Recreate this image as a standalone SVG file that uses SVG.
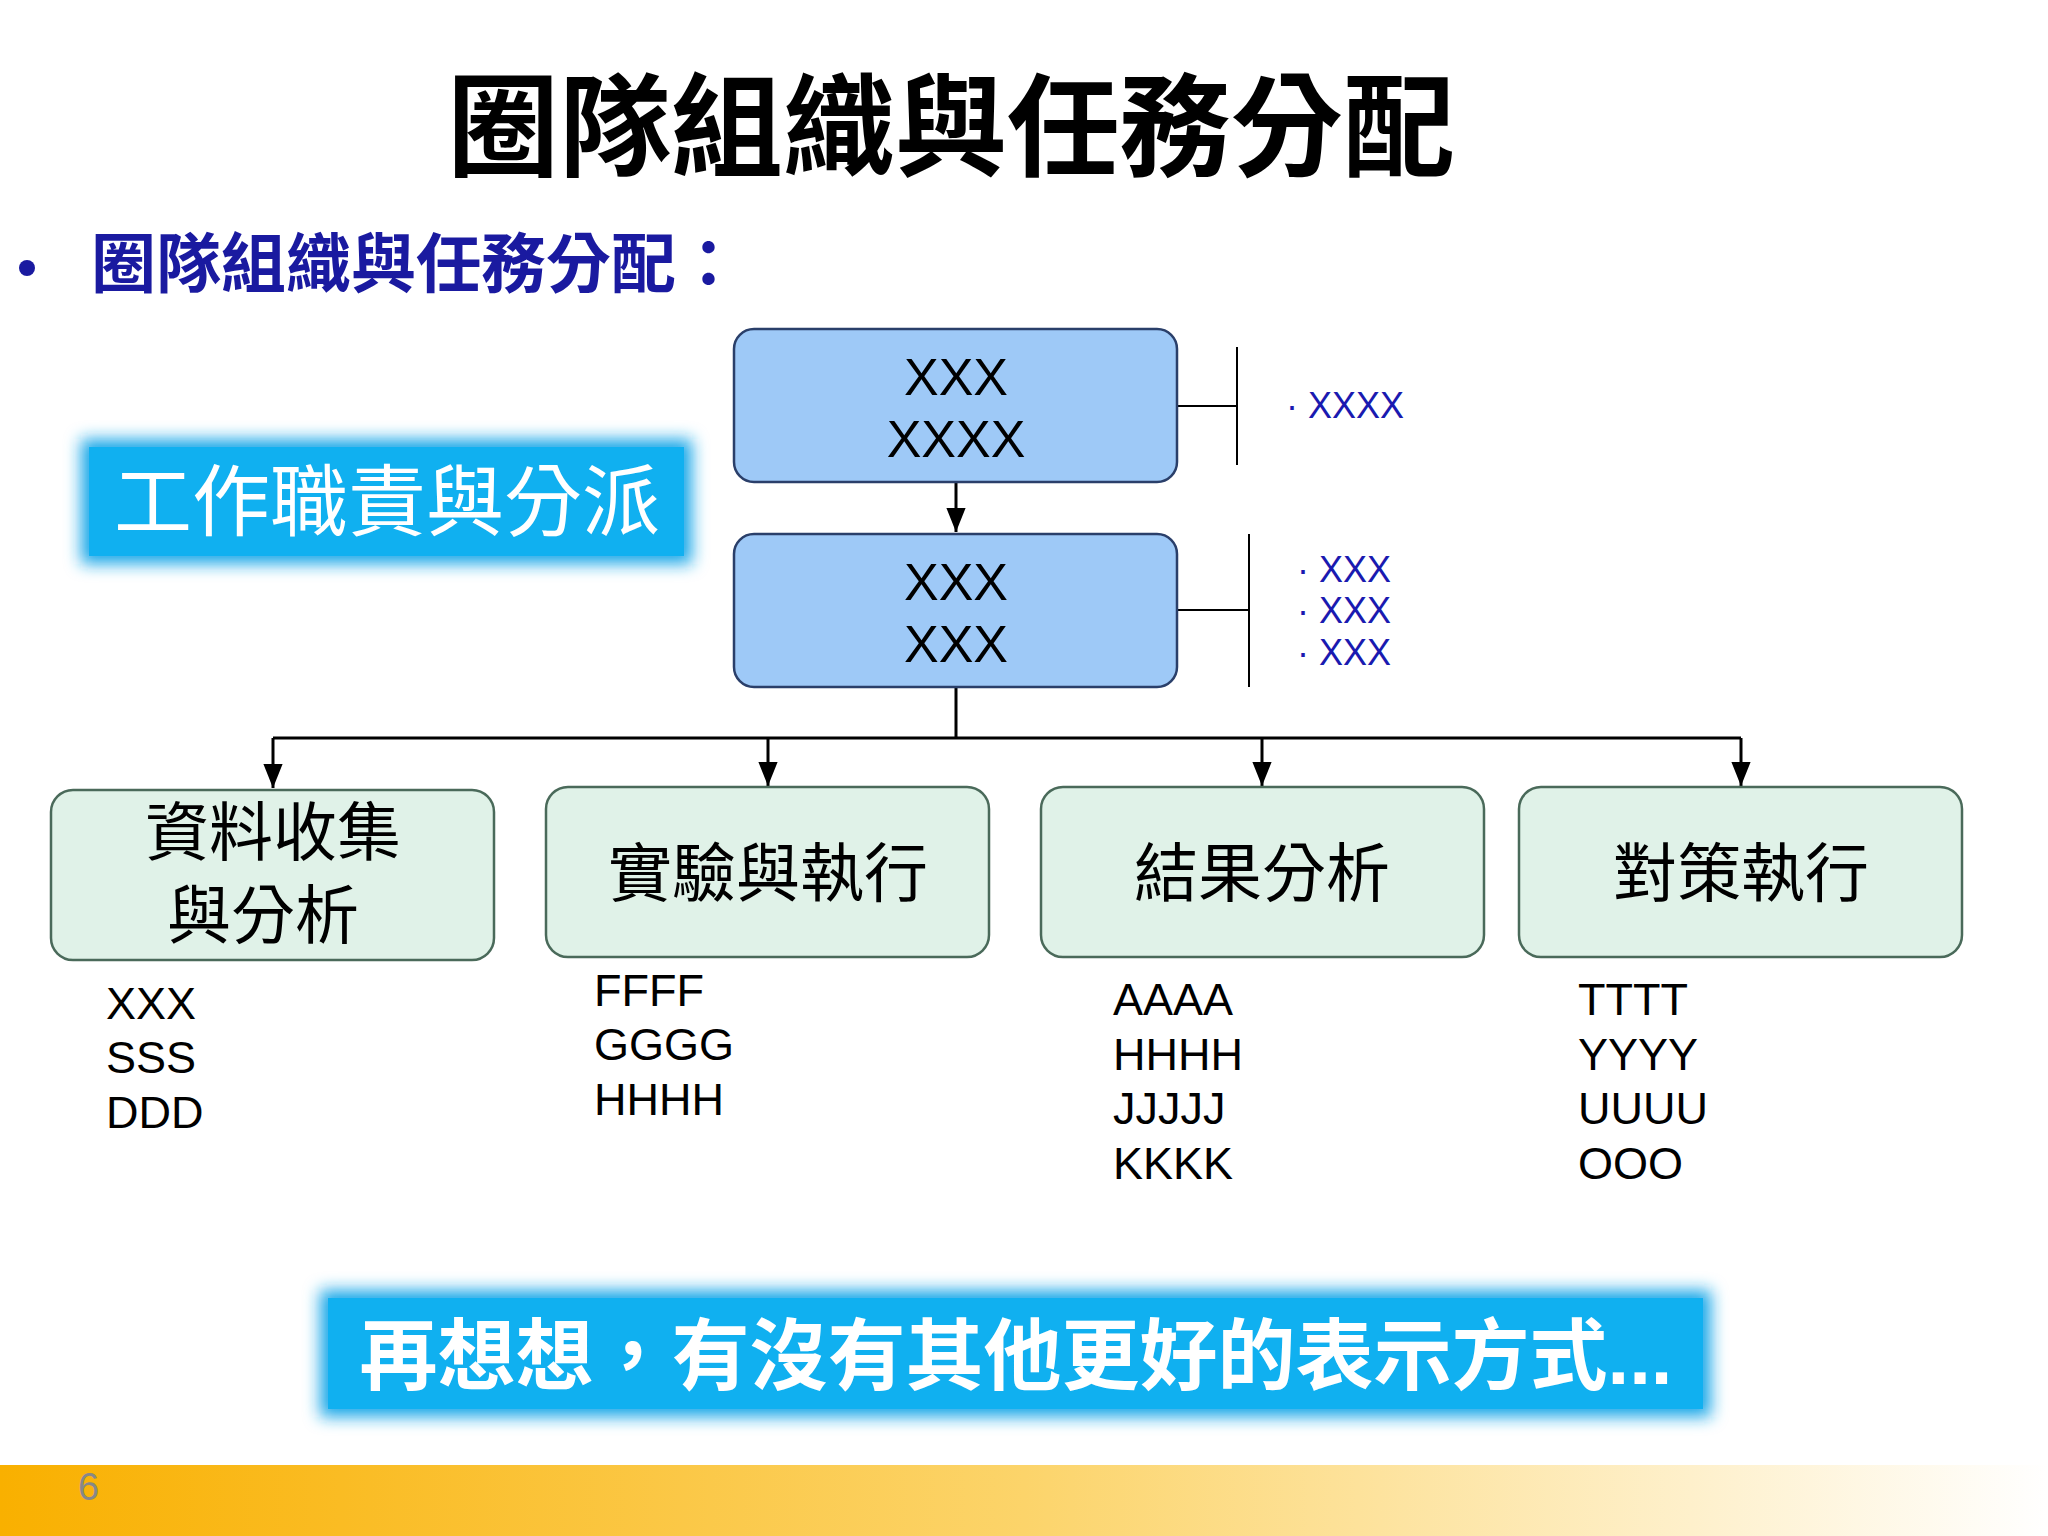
<svg xmlns="http://www.w3.org/2000/svg" width="2048" height="1536" viewBox="0 0 2048 1536">
<defs>
<linearGradient id="foot" x1="0" x2="1" y1="0" y2="0"><stop offset="0" stop-color="#f9b000"/><stop offset="0.5" stop-color="#fcd46a"/><stop offset="1" stop-color="#ffffff"/></linearGradient>
<filter id="glow" x="-10%" y="-30%" width="120%" height="160%"><feGaussianBlur stdDeviation="8"/></filter>
<marker id="ar" viewBox="0 0 10 10" refX="10" refY="5" markerWidth="8" markerHeight="8" orient="auto"><path d="M0,1 L10,5 L0,9 z" fill="#000"/></marker>
<style>
.t{font-family:"Liberation Sans","Noto Sans CJK TC",sans-serif}
.blue{fill:#9ec9f7;stroke:#2a3f6a;stroke-width:2.5}
.green{fill:#e0f2e8;stroke:#4a6a5a;stroke-width:2.5}
.ln{stroke:#000;stroke-width:3;fill:none}
.bx{font-size:52px;text-anchor:middle}
.gx{font-size:64px;text-anchor:middle}
.li{font-size:45px}
.sd{font-size:36px;fill:#1a1ab0}
</style>
</defs>
<rect width="2048" height="1536" fill="#fff"/>
<text class="t" x="951" y="168" font-size="112" font-weight="bold" text-anchor="middle">圈隊組織與任務分配</text>
<circle cx="27" cy="268" r="8" fill="#1a1aa0"/>
<text class="t" x="91" y="287" font-size="65" font-weight="bold" fill="#1a1aa0">圈隊組織與任務分配：</text>
<g id="label1"><rect x="81" y="439" width="611" height="125" fill="#1aa8e8" filter="url(#glow)"/><rect x="89" y="447" width="595" height="109" fill="#10b0f0"/>
<text class="t" x="387" y="530" font-size="78" fill="#fff" text-anchor="middle">工作職責與分派</text></g>
<g id="connectors">
<line class="ln" x1="956" y1="482" x2="956" y2="532" marker-end="url(#ar)"/>
<path class="ln" d="M956 687 V738 M273 738 H1741"/>
<line class="ln" x1="273" y1="738" x2="273" y2="788" marker-end="url(#ar)"/>
<line class="ln" x1="768" y1="738" x2="768" y2="786" marker-end="url(#ar)"/>
<line class="ln" x1="1262" y1="738" x2="1262" y2="786" marker-end="url(#ar)"/>
<line class="ln" x1="1741" y1="738" x2="1741" y2="786" marker-end="url(#ar)"/>
<path d="M1177 406 H1237 M1237 347 V465 M1177 610 H1249 M1249 534 V687" stroke="#000" stroke-width="2" fill="none"/>
</g>
<g id="n1"><rect class="blue" x="734" y="329" width="443" height="153" rx="20"/><text class="t bx" x="956" y="395">XXX</text><text class="t bx" x="956" y="457">XXXX</text></g>
<g id="n2"><rect class="blue" x="734" y="534" width="443" height="153" rx="20"/><text class="t bx" x="956" y="600">XXX</text><text class="t bx" x="956" y="662">XXX</text></g>
<g id="s1"><text class="t sd" x="1286" y="418">· XXXX</text></g>
<g id="s2"><text class="t sd" x="1297" y="582">· XXX</text><text class="t sd" x="1297" y="623">· XXX</text><text class="t sd" x="1297" y="665">· XXX</text></g>
<g id="b1"><rect class="green" x="51" y="790" width="443" height="170" rx="22"/><text class="t gx" x="273" y="855">資料收集</text><text class="t gx" x="263" y="938">與分析</text></g>
<g id="b2"><rect class="green" x="546" y="787" width="443" height="170" rx="22"/><text class="t gx" x="768" y="896">實驗與執行</text></g>
<g id="b3"><rect class="green" x="1041" y="787" width="443" height="170" rx="22"/><text class="t gx" x="1262" y="896">結果分析</text></g>
<g id="b4"><rect class="green" x="1519" y="787" width="443" height="170" rx="22"/><text class="t gx" x="1741" y="896">對策執行</text></g>
<g id="l1"><text class="t li" x="106" y="1019">XXX</text><text class="t li" x="106" y="1073">SSS</text><text class="t li" x="106" y="1128">DDD</text></g>
<g id="l2"><text class="t li" x="594" y="1006">FFFF</text><text class="t li" x="594" y="1060">GGGG</text><text class="t li" x="594" y="1115">HHHH</text></g>
<g id="l3"><text class="t li" x="1113" y="1015">AAAA</text><text class="t li" x="1113" y="1070">HHHH</text><text class="t li" x="1113" y="1124">JJJJJ</text><text class="t li" x="1113" y="1179">KKKK</text></g>
<g id="l4"><text class="t li" x="1578" y="1015">TTTT</text><text class="t li" x="1578" y="1070">YYYY</text><text class="t li" x="1578" y="1124">UUUU</text><text class="t li" x="1578" y="1179">OOO</text></g>
<g id="banner"><rect x="320" y="1290" width="1391" height="127" fill="#1aa8e8" filter="url(#glow)"/><rect x="328" y="1298" width="1375" height="111" fill="#10b0f0"/>
<text class="t" x="1016" y="1384" font-size="78" font-weight="bold" fill="#fff" text-anchor="middle">再想想，有沒有其他更好的表示方式...</text></g>
<rect x="0" y="1465" width="2048" height="71" fill="url(#foot)"/>
<text class="t" x="78" y="1500" font-size="38" fill="#888">6</text>
</svg>
